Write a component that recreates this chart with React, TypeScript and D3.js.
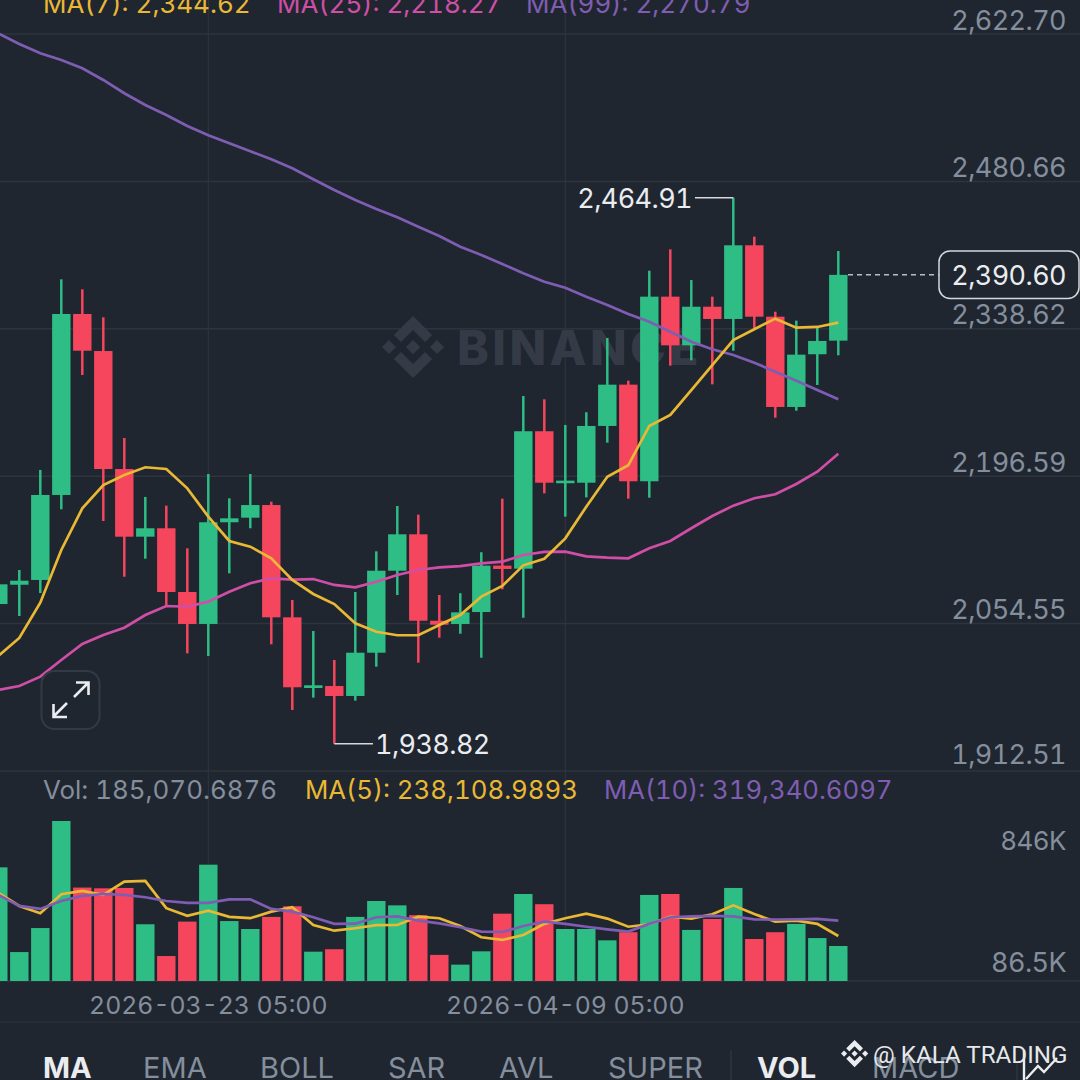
import { useEffect } from "react";
import * as d3 from "d3";

// candles, oldest first
const opens = [2073.4, 2092.0, 2096.6, 2178.5, 2352.9, 2317.2, 2203.5, 2138.3, 2146.4, 2085.0, 2054.2, 2152.2, 2156.6, 2168.8, 2060.6, 1992.5, 1994.4, 1984.8, 2026.5, 2105.5, 2140.6, 2057.3, 2054.2, 2065.7, 2110.4, 2107.5, 2239.9, 2189.8, 2190.3, 2245.0, 2284.8, 2191.7, 2369.6, 2322.7, 2359.9, 2348.1, 2419.1, 2350.3, 2263.3, 2314.1, 2327.2];
const highs = [2096.6, 2106.2, 2202.6, 2386.3, 2376.7, 2349.7, 2233.4, 2176.6, 2168.2, 2127.1, 2198.7, 2175.3, 2198.7, 2172.0, 2077.3, 2047.4, 2019.5, 2085.0, 2124.2, 2167.9, 2159.5, 2082.1, 2083.8, 2123.3, 2174.9, 2273.9, 2270.7, 2246.0, 2258.2, 2329.8, 2288.6, 2394.6, 2415.2, 2385.6, 2369.6, 2464.91, 2427.4, 2355.1, 2346.5, 2340.1, 2413.6];
const lows = [2067.7, 2061.9, 2084.0, 2164.7, 2294.1, 2153.4, 2099.7, 2117.1, 2071.5, 2025.9, 2023.3, 2103.0, 2146.4, 2034.6, 1971.3, 1983.2, 1938.82, 1980.3, 2013.0, 2082.1, 2016.9, 2041.0, 2044.8, 2021.7, 2087.6, 2060.2, 2180.1, 2157.6, 2176.2, 2228.9, 2174.9, 2175.9, 2303.1, 2308.3, 2285.1, 2317.5, 2339.4, 2252.97, 2259.7, 2284.5, 2313.1];
const closes = [2092.4, 2095.9, 2178.5, 2352.9, 2317.5, 2203.5, 2138.3, 2146.4, 2085.0, 2054.2, 2152.2, 2156.0, 2168.8, 2060.6, 1993.2, 1995.1, 1984.8, 2026.5, 2105.5, 2140.6, 2057.3, 2053.5, 2065.4, 2110.4, 2107.2, 2239.9, 2190.3, 2192.3, 2245.0, 2284.8, 2191.7, 2369.6, 2322.7, 2359.9, 2348.1, 2419.1, 2350.3, 2263.3, 2313.7, 2326.9, 2390.6];

const ma7 = [2023.3, 2040.7, 2074.7, 2125.5, 2165.6, 2188.1, 2197.8, 2205.2, 2203.5, 2184.9, 2157.6, 2134.2, 2128.7, 2117.5, 2096.6, 2083.1, 2073.4, 2054.8, 2046.7, 2043.3, 2043.3, 2053.2, 2062.8, 2080.5, 2090.8, 2110.7, 2117.1, 2136.7, 2167.2, 2196.1, 2207.1, 2245.0, 2255.6, 2279.6, 2303.7, 2327.8, 2338.2, 2348.4, 2339.7, 2340.4, 2344.62];
const ma25 = [1990.6, 1994.4, 2003.4, 2019.5, 2034.9, 2043.6, 2050.6, 2062.8, 2071.5, 2070.8, 2075.7, 2085.3, 2093.4, 2098.2, 2096.9, 2097.5, 2091.8, 2089.5, 2094.9, 2101.4, 2106.2, 2108.8, 2110.0, 2112.6, 2114.2, 2120.7, 2123.6, 2123.9, 2119.4, 2118.1, 2117.5, 2127.1, 2134.2, 2146.4, 2158.2, 2168.2, 2175.3, 2179.2, 2189.1, 2200.9, 2218.27];
const ma99 = [2623.2, 2613.1, 2604.1, 2597.6, 2589.7, 2578.4, 2565.6, 2554.3, 2544.7, 2534.1, 2525.1, 2517.4, 2509.7, 2502.0, 2493.3, 2482.7, 2472.4, 2462.8, 2454.1, 2446.1, 2437.0, 2428.1, 2417.7, 2409.8, 2401.1, 2392.1, 2384.0, 2378.2, 2369.6, 2361.6, 2352.9, 2345.5, 2335.8, 2326.2, 2318.9, 2313.4, 2306.0, 2297.3, 2288.6, 2279.6, 2270.79];

// volume in thousands
const volumes = [601, 153, 280, 846, 494, 490, 492, 300, 132, 314, 615, 317, 275, 339, 395, 155, 168, 339, 423, 400, 348, 138, 86.5, 157, 356, 460, 406, 275, 275, 215, 258, 455, 460, 270, 328, 492, 222, 258, 302, 227, 185.07];
const volMa5 = [467, 397, 358, 459, 476, 455, 525, 529, 385, 345, 372, 339, 332, 367, 390, 296, 266, 279, 295, 296, 340, 332, 291, 231, 217, 243, 302, 332, 356, 330, 287, 300, 340, 330, 353, 400, 354, 314, 319, 302, 238.1];
const volMa10 = [455, 397, 381, 423, 450, 460, 455, 443, 423, 413, 413, 432, 432, 381, 367, 337, 302, 303, 337, 342, 319, 305, 284, 261, 259, 291, 314, 302, 287, 273, 261, 302, 337, 342, 344, 342, 326, 324, 326, 328, 319.34];

const priceTicks = [2622.7, 2480.66, 2338.62, 2196.59, 2054.55, 1912.51];
const timeTicks = [
  { index: 10, label: "2026-03-23 05:00" },
  { index: 27, label: "2026-04-09 05:00" },
];
const tabs = ["MA", "EMA", "BOLL", "SAR", "AVL", "SUPER", "VOL", "MACD"];
const tabX = [43, 143, 260, 388, 499, 608, 757, 872];
const activeTabs = new Set(["MA", "VOL"]);

const BG = "#1f2630";
const GRID = "#2e343e";
const UP = "#2ebd85";
const DOWN = "#f6465d";
const MUTED = "#848e9c";
const YELLOW = "#e9b834";
const PINK = "#d04ea6";
const PURPLE = "#7f5db3";
const FONT = "Inter, sans-serif";

const LOGO = [
  "38.71 53.2 63.3 28.61 87.91 53.22 102.22 38.91 63.3 0 24.4 38.9",
  "0 63.31 14.31 49 28.62 63.31 14.31 77.62",
  "38.71 73.41 63.3 98 87.91 73.4 102.23 87.7 63.3 126.61 24.4 87.71",
  "98 63.31 112.31 49 126.62 63.31 112.31 77.62",
  "77.82 63.3 63.3 48.78 48.8 63.28 63.3 77.83",
];

const fmt = d3.format(",.2f");

export default function App() {
  useEffect(() => {
    document.body.style.margin = "0";
    document.body.style.background = BG;
  }, []);

  const x = d3.scaleLinear().domain([0, 40]).range([-1.7, 838.3]);
  const y = d3.scaleLinear().domain([1912.51, 2622.7]).range([771, 34]);
  const yVol = d3.scaleLinear().domain([0, 846]).range([981, 821]);
  const bodyW = 18.4;

  const priceLine = d3
    .line<number>()
    .x((_, i) => x(i))
    .y((d) => y(d));
  const volLine = d3
    .line<number>()
    .x((_, i) => x(i))
    .y((d) => yVol(d));

  const last = closes[closes.length - 1];
  const highIndex = d3.maxIndex(highs);
  const lowIndex = d3.minIndex(lows);

  return (
    <svg
      width={1080}
      height={1080}
      viewBox="0 0 1080 1080"
      style={{ display: "block", position: "absolute", left: 0, top: 0, fontVariantNumeric: "tabular-nums" }}
      fontFamily={FONT}
    >
      <rect width={1080} height={1080} fill={BG} />

      {/* grid */}
      {priceTicks.map((t) => (
        <line key={t} x1={0} x2={1080} y1={y(t)} y2={y(t)} stroke={GRID} strokeWidth={1.5} />
      ))}
      {timeTicks.map((t) => (
        <line key={t.label} x1={x(t.index)} x2={x(t.index)} y1={0} y2={981} stroke={GRID} strokeWidth={1.2} />
      ))}
      <line x1={0} x2={1080} y1={981} y2={981} stroke={GRID} strokeWidth={1.5} />
      <line x1={0} x2={1080} y1={1022} y2={1022} stroke={GRID} strokeWidth={1.2} />

      {/* watermark */}
      <g transform="translate(382,316) scale(0.49)" fill="#343b46">
        {LOGO.map((p) => (
          <polygon key={p} points={p} />
        ))}
      </g>
      <text x={457} y={365} fontSize={48} fontWeight={800} fill="#343b46" letterSpacing={3.4}>
        BINANCE
      </text>

      {/* candles */}
      {closes.map((c, i) => {
        const o = opens[i];
        const color = c >= o ? UP : DOWN;
        const top = y(Math.max(o, c));
        const bottom = y(Math.min(o, c));
        return (
          <g key={i} fill={color}>
            <rect x={x(i) - 1.25} width={2.5} y={y(highs[i])} height={y(lows[i]) - y(highs[i])} />
            <rect x={x(i) - bodyW / 2} width={bodyW} y={top} height={Math.max(bottom - top, 1)} />
          </g>
        );
      })}

      <path d={priceLine(ma99) ?? ""} fill="none" stroke={PURPLE} strokeWidth={2.7} />
      <path d={priceLine(ma25) ?? ""} fill="none" stroke={PINK} strokeWidth={2.7} />
      <path d={priceLine(ma7) ?? ""} fill="none" stroke={YELLOW} strokeWidth={2.7} />

      {/* high / low markers */}
      <line x1={x(highIndex)} x2={695} y1={y(highs[highIndex])} y2={y(highs[highIndex])} stroke="#d5d8dc" strokeWidth={1.5} />
      <text x={692} y={208} textAnchor="end" fontSize={27} letterSpacing={-0.6} fill="#eaecef">
        {fmt(highs[highIndex])}
      </text>
      <line x1={x(lowIndex)} x2={373} y1={y(lows[lowIndex])} y2={y(lows[lowIndex])} stroke="#d5d8dc" strokeWidth={1.5} />
      <text x={375} y={754} fontSize={27} letterSpacing={-0.6} fill="#eaecef">
        {fmt(lows[lowIndex])}
      </text>

      {/* right axis */}
      {priceTicks.map((t, i) => (
        <text key={t} x={1066} y={y(t) - (i === priceTicks.length - 1 ? 7 : 4.5)} textAnchor="end" fontSize={27} letterSpacing={-0.6} fill={MUTED}>
          {fmt(t)}
        </text>
      ))}
      <line x1={848} x2={939} y1={y(last)} y2={y(last)} stroke="#b7bdc6" strokeWidth={1.5} strokeDasharray="5 4" />
      <rect x={939} y={251} width={140} height={47.5} rx={11} fill={BG} stroke="#d5d8dc" strokeWidth={1.5} />
      <text x={1066} y={285} textAnchor="end" fontSize={27} letterSpacing={-0.6} fill="#eaecef">
        {fmt(last)}
      </text>

      {/* legend rows */}
      <text x={43} y={13} fontSize={26} fill={YELLOW}>MA(7): 2,344.62</text>
      <text x={277} y={13} fontSize={26} fill={PINK}>MA(25): 2,218.27</text>
      <text x={526} y={13} fontSize={26} fill={PURPLE}>MA(99): 2,270.79</text>

      <text x={43} y={799} fontSize={25.9} fill={MUTED}>Vol: 185,070.6876</text>
      <text x={305} y={799} fontSize={25.8} fill={YELLOW}>MA(5): 238,108.9893</text>
      <text x={604} y={799} fontSize={25.7} fill={PURPLE}>MA(10): 319,340.6097</text>

      {/* volume pane */}
      {volumes.map((v, i) => (
        <rect
          key={i}
          x={x(i) - bodyW / 2}
          width={bodyW}
          y={yVol(v)}
          height={yVol(0) - yVol(v)}
          fill={closes[i] >= opens[i] ? UP : DOWN}
        />
      ))}
      <path d={volLine(volMa5) ?? ""} fill="none" stroke={YELLOW} strokeWidth={2.7} />
      <path d={volLine(volMa10) ?? ""} fill="none" stroke={PURPLE} strokeWidth={2.7} />
      <text x={1066} y={850} textAnchor="end" fontSize={26} letterSpacing={-0.6} fill={MUTED}>846K</text>
      <text x={1066} y={972} textAnchor="end" fontSize={27} letterSpacing={-0.6} fill={MUTED}>86.5K</text>

      {/* time axis */}
      {timeTicks.map((t) => (
        <text key={t.label} x={x(t.index)} y={1014} textAnchor="middle" fontSize={24.8} fill={MUTED}>
          {t.label}
        </text>
      ))}

      {/* expand button */}
      <rect x={41.5} y={671} width={58} height={58} rx={13} fill={BG} stroke="#343a45" strokeWidth={2} />
      <g fill="none" stroke="#eaecef" strokeWidth={2.6}>
        <path d="M74 697 L88 683 M76 682.5 H88.5 V695" />
        <path d="M67 703 L54 716 M53.5 704 V717 H67" />
      </g>

      {/* indicator tabs */}
      {tabs.map((t, i) => (
        <text
          key={t}
          x={tabX[i]}
          y={1078}
          fontSize={29}
          fontWeight={activeTabs.has(t) ? 700 : 400}
          fill={activeTabs.has(t) ? "#eaecef" : MUTED}
        >
          {t}
        </text>
      ))}
      <line x1={731} x2={731} y1={1050} y2={1080} stroke={GRID} strokeWidth={1.5} />
      <line x1={1017} x2={1017} y1={1062} y2={1080} stroke={GRID} strokeWidth={1.5} />
      <g fill="none" stroke="#eaecef" strokeWidth={2.4}>
        <path d="M1024 1050 V1080" />
        <path d="M1026 1079 L1038 1066 L1044 1072 L1057 1058" />
      </g>

      {/* overlaid credit */}
      <g transform="translate(841,1040) scale(0.215)" fill="#eaecef">
        {LOGO.map((p) => (
          <polygon key={p} points={p} />
        ))}
      </g>
      <text x={873} y={1063} fontSize={24.2} fontFamily="Roboto, sans-serif" fill="#e6e8ea">@ KALA TRADING</text>
    </svg>
  );
}
